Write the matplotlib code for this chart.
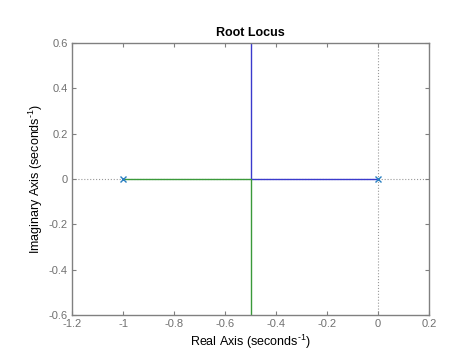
import matplotlib
matplotlib.use("Agg")
import matplotlib.pyplot as plt

# Data
poles_re = [-1.0, 0.0]
poles_im = [0.0, 0.0]
branch1_re = [0.0, -0.5, -0.5]
branch1_im = [0.0, 0.0, 0.6]
branch2_re = [-1.0, -0.5, -0.5]
branch2_im = [0.0, 0.0, -0.6]
xticks = [-1.2, -1, -0.8, -0.6, -0.4, -0.2, 0, 0.2]
yticks = [-0.6, -0.4, -0.2, 0, 0.2, 0.4, 0.6]
xticklabels = ["-1.2", "-1", "-0.8", "-0.6", "-0.4", "-0.2", "0", "0.2"]
yticklabels = ["-0.6", "-0.4", "-0.2", "0", "0.2", "0.4", "0.6"]

plt.rcParams['font.family'] = ['Liberation Sans', 'DejaVu Sans']
plt.rcParams['mathtext.fontset'] = 'custom'
plt.rcParams['mathtext.rm'] = 'Liberation Sans'
plt.rcParams['mathtext.default'] = 'regular'
fig = plt.figure(figsize=(4.74, 3.55), dpi=100)
ax = fig.add_axes([0.152, 0.113, 0.753, 0.766])

gray = '#808080'
ax.axhline(0, color='#999999', linestyle=':', linewidth=0.8, zorder=1)
ax.axvline(0, color='#999999', linestyle=':', linewidth=0.8, zorder=1)
ax.plot(branch1_re, branch1_im, color='#3a3acc', linewidth=1.0, zorder=2)
ax.plot(branch2_re, branch2_im, color='#3a993a', linewidth=1.0, zorder=2)
ax.plot(poles_re, poles_im, linestyle='none', marker='x', color='#2a7fc0',
        markersize=5, markeredgewidth=1.0, zorder=3)

ax.set_xlim(-1.2, 0.2)
ax.set_ylim(-0.6, 0.6)
ax.set_xticks(xticks)
ax.set_xticklabels(xticklabels)
ax.set_yticks(yticks)
ax.set_yticklabels(yticklabels)
ax.tick_params(direction='in', length=3, width=0.8, colors=gray,
               labelsize=8, top=True, right=True, pad=3)
ax.tick_params(labelcolor='#707070')
for s in ax.spines.values():
    s.set_color(gray)
    s.set_linewidth(1.0)

ax.set_title('Root Locus', fontsize=9, fontweight='bold', pad=5)
ax.set_xlabel('Real Axis (seconds$^{\\text{-}1}$)', fontsize=9, labelpad=3)
ax.set_ylabel('Imaginary Axis (seconds$^{\\text{-}1}$)', fontsize=9, labelpad=3)

fig.savefig('out.png', dpi=100)
